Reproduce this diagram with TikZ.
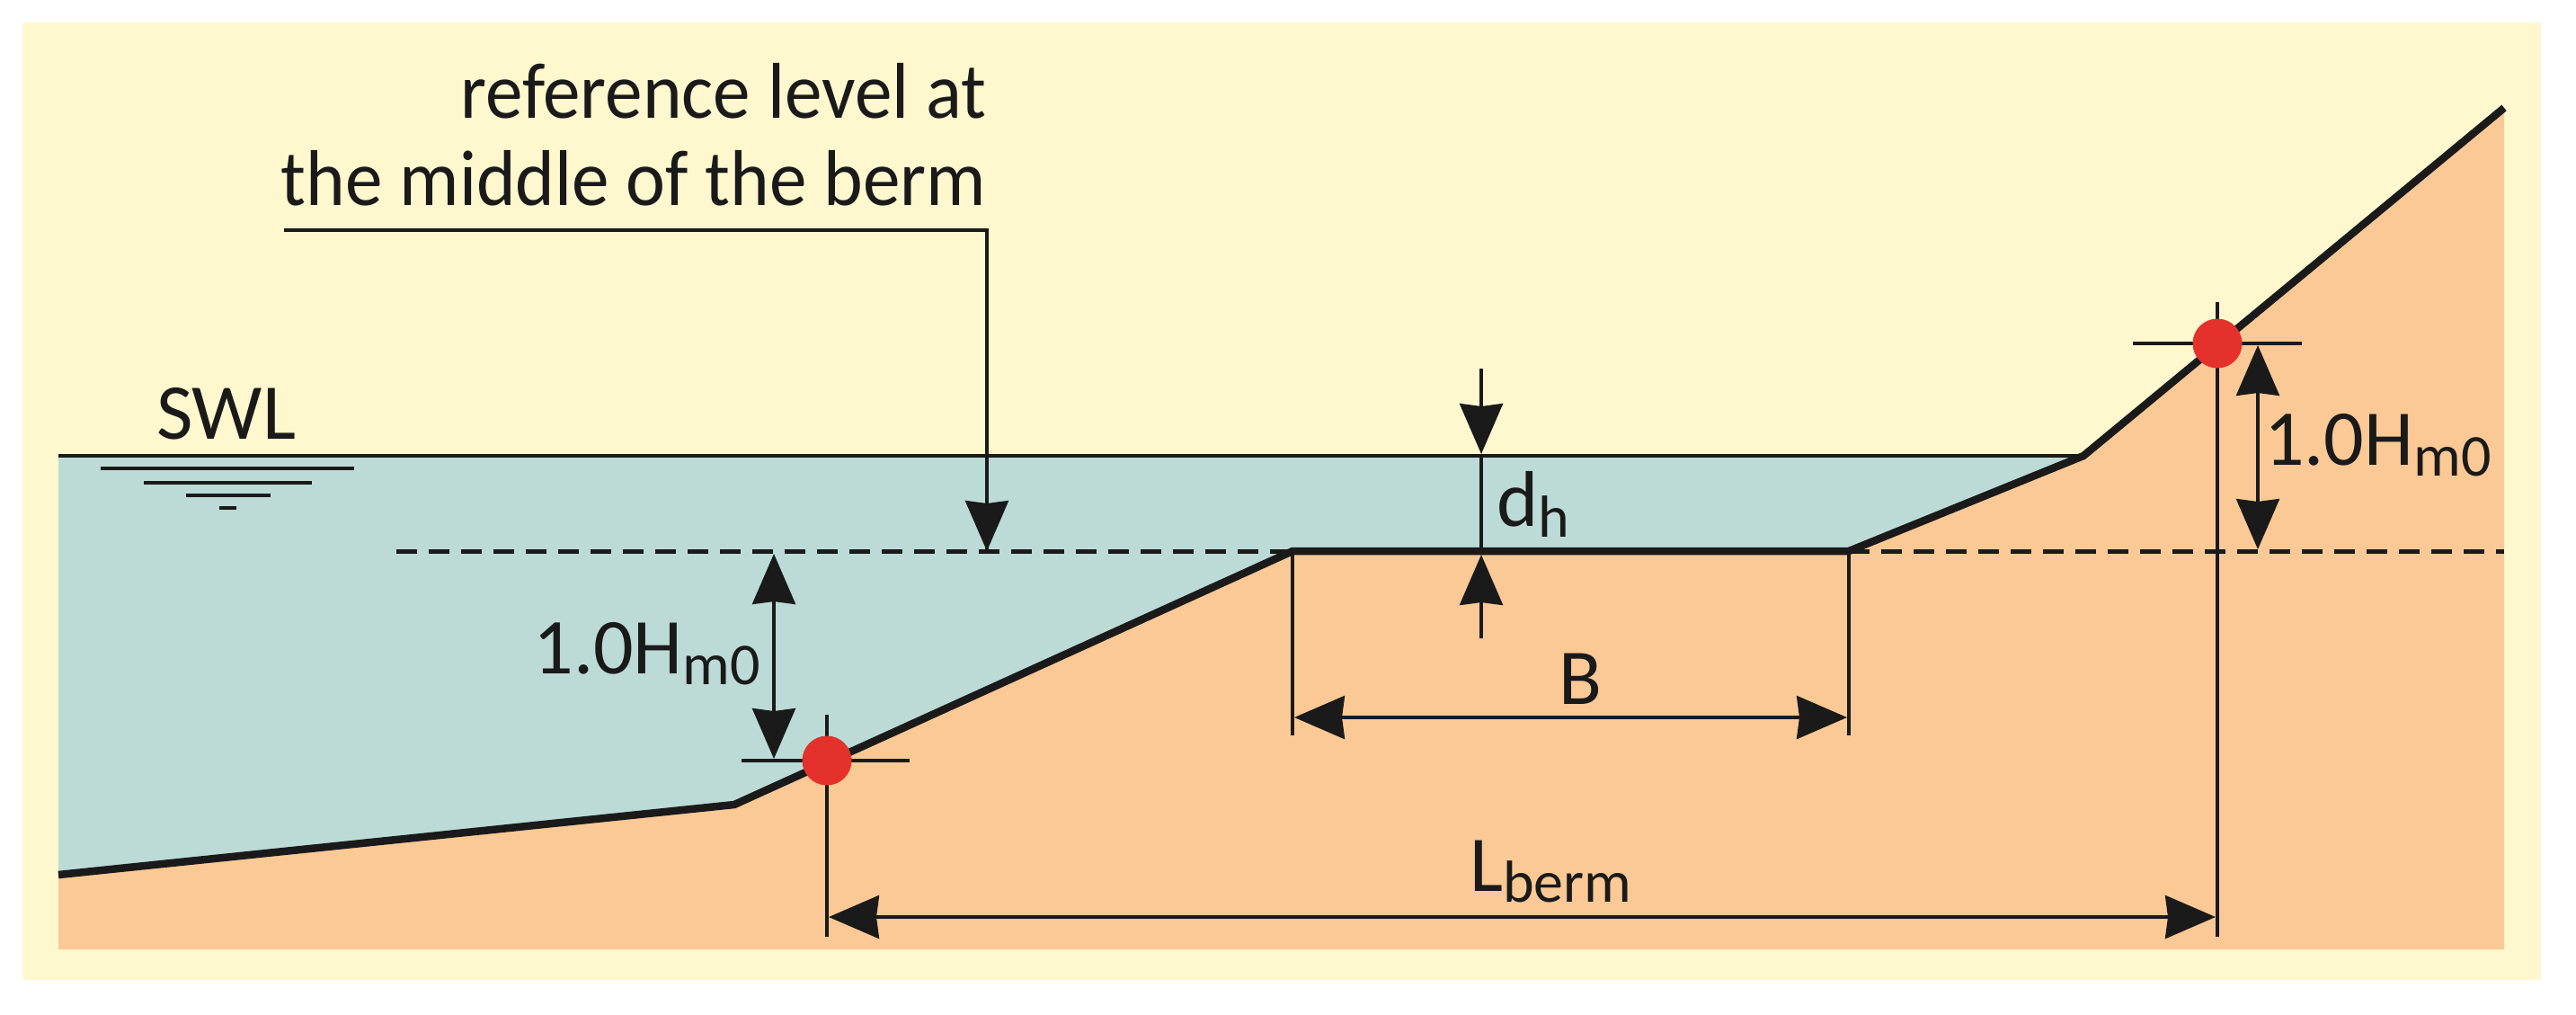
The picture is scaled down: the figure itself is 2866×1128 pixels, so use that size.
\documentclass[tikz,border=0pt]{standalone}
\usepackage{fontspec}
\setmainfont{Carlito}
\usetikzlibrary{arrows.meta}
\definecolor{paper}{HTML}{FFF8CF}
\definecolor{water}{HTML}{BCDBD6}
\definecolor{soil}{HTML}{FBC995}
\definecolor{dot}{HTML}{E4312B}
\definecolor{ink}{HTML}{1A1A1A}
\tikzset{
  thinline/.style={draw=ink,line width=3.5pt},
  profile/.style={draw=ink,line width=8.5pt,line join=bevel},
  levelline/.style={draw=ink,line width=5pt,dash pattern=on 23pt off 13pt},
  dimline/.style={thinline,{Stealth[length=56pt,width=48pt,inset=3pt]}-{Stealth[length=56pt,width=48pt,inset=3pt]}},
  endarrow/.style={thinline,-{Stealth[length=56pt,width=48pt,inset=3pt]}},
  lbl/.style={inner sep=0pt,outer sep=0pt,text=ink,font=\fontsize{88}{88}\selectfont},
  reddot/.style={circle,fill=dot,minimum size=55pt,inner sep=0pt}
}
\newcommand{\subtxt}[1]{\raisebox{-12pt}{\fontsize{66}{66}\selectfont #1}}
\begin{document}
\begin{tikzpicture}[x=1pt,y=-1pt]
\useasboundingbox (0,0) rectangle (2866,1128);
\fill[white] (0,0) rectangle (2866,1128);
\fill[paper] (25,25) rectangle (2827,1090);
% key points
\coordinate (A) at (65,973);
\coordinate (K) at (817,895);
\coordinate (BL) at (1438,613);
\coordinate (BR) at (2057,613);
\coordinate (S) at (2318,507);
\coordinate (T) at (2786,120);
\coordinate (W) at (65,507);
\coordinate (SE) at (2786,1056);
\coordinate (SW) at (65,1056);
\fill[water] (W) -- (S) -- (BR) -- (BL) -- (K) -- (A) -- cycle;
\fill[soil] (A) -- (K) -- (BL) -- (BR) -- (S) -- (T) -- (SE) -- (SW) -- cycle;
% levels
\draw[thinline,line width=4.5pt] (W) -- (S);
\coordinate (dL0) at (441,613);
\coordinate (dR1) at (2786,613);
\draw[levelline] (dL0) -- (BL);
\draw[levelline] (BR) -- (dR1);
% SWL symbol
\coordinate (s1a) at (112,521); \coordinate (s1b) at (394,521);
\coordinate (s2a) at (160,537); \coordinate (s2b) at (347,537);
\coordinate (s3a) at (207,551); \coordinate (s3b) at (301,551);
\coordinate (s4a) at (244,565); \coordinate (s4b) at (263,565);
\draw[thinline,line width=4.5pt] (s1a) -- (s1b) (s2a) -- (s2b) (s3a) -- (s3b) (s4a) -- (s4b);
% extension lines
\coordinate (lowTop) at (920,795); \coordinate (lowBot) at (920,1042);
\coordinate (upTop) at (2467,336); \coordinate (upBot) at (2467,1042);
\coordinate (bLb) at (1438,818); \coordinate (bRb) at (2057,818);
\draw[thinline] (lowTop) -- (lowBot);
\draw[thinline] (upTop) -- (upBot);
\draw[thinline] (BL) -- (bLb);
\draw[thinline] (BR) -- (bRb);
% profile
\draw[profile] (A) -- (K) -- (BL) -- (BR) -- (S) -- (T);
% ticks
\coordinate (tl1) at (825,846); \coordinate (tl2) at (1012,846);
\coordinate (tu1) at (2373,382); \coordinate (tu2) at (2561,382);
\draw[thinline,line width=4.5pt] (tl1) -- (tl2);
\draw[thinline,line width=4.5pt] (tu1) -- (tu2);
% red points
\node[reddot] (rl) at (920,846) {};
\node[reddot] (ru) at (2467,382) {};
% leader
\coordinate (l0) at (316,256); \coordinate (l1) at (1098,256); \coordinate (l2) at (1098,613);
\draw[thinline,line join=miter] (l0) -- (l1) -- (l2);
\draw[endarrow] (1098,500) -- (l2);
% dimensions
\coordinate (hl1) at (861,616); \coordinate (hl2) at (861,844);
\draw[dimline] (hl1) -- (hl2);
\coordinate (hr1) at (2512,384); \coordinate (hr2) at (2512,611);
\draw[dimline] (hr1) -- (hr2);
\coordinate (d0) at (1648,410); \coordinate (d1) at (1648,505);
\coordinate (d2) at (1648,710); \coordinate (d3) at (1648,617);
\draw[endarrow] (d0) -- (d1);
\draw[endarrow] (d2) -- (d3);
\draw[thinline] (d1) -- (d3);
\coordinate (b1) at (1440,798); \coordinate (b2) at (2055,798);
\draw[dimline] (b1) -- (b2);
\coordinate (lb1) at (922,1020); \coordinate (lb2) at (2465,1020);
\draw[dimline] (lb1) -- (lb2);
% labels
\node[lbl,anchor=base east,xscale=0.945] (t1) at (1097,131) {reference level at};
\node[lbl,anchor=base east,xscale=0.945] (t2) at (1097,228) {the middle of the berm};
\node[lbl,anchor=base west] (swl) at (174,488) {SWL};
\node[lbl,anchor=base east] (hleft) at (846,749) {1.0H\subtxt{m0}};
\node[lbl,anchor=base west] (hright) at (2519,517) {1.0H\subtxt{m0}};
\node[lbl,anchor=base west] (dh) at (1665,585) {d\subtxt{h}};
\node[lbl,anchor=base west] (bb) at (1734,783) {B};
\node[lbl,anchor=base west] (lb) at (1635,991) {L\subtxt{berm}};
\end{tikzpicture}
\end{document}
